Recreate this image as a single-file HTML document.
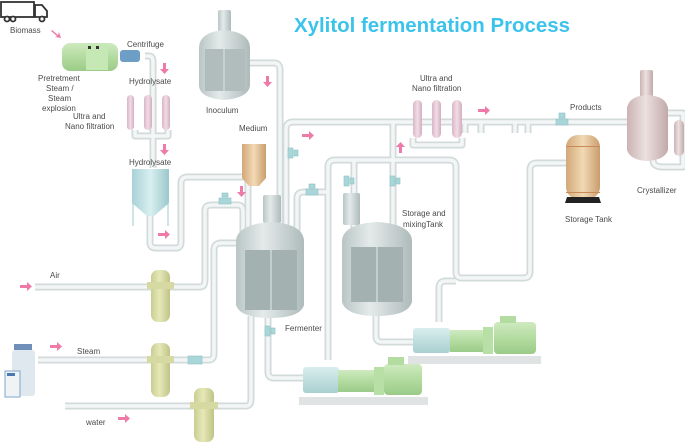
<!DOCTYPE html>
<html><head><meta charset="utf-8"><style>
html,body{margin:0;padding:0;background:#fff;}
svg{display:block;}
text{font-family:"Liberation Sans",sans-serif;fill:#4a4a4a;font-size:8px;}
</style></head><body>
<svg width="685" height="442" viewBox="0 0 685 442" xmlns="http://www.w3.org/2000/svg">
<defs>
<linearGradient id="steel" x1="0" x2="1"><stop offset="0" stop-color="#b9c6c5"/><stop offset="0.4" stop-color="#e4eaea"/><stop offset="1" stop-color="#aebbba"/></linearGradient>
<linearGradient id="green" x1="0" x2="0" y1="0" y2="1"><stop offset="0" stop-color="#cfeac0"/><stop offset="0.5" stop-color="#b3dca0"/><stop offset="1" stop-color="#9bcb88"/></linearGradient>
<linearGradient id="olive" x1="0" x2="1"><stop offset="0" stop-color="#c9ce92"/><stop offset="0.45" stop-color="#e6e8b8"/><stop offset="1" stop-color="#bfc486"/></linearGradient>
<linearGradient id="pink" x1="0" x2="1"><stop offset="0" stop-color="#d8b6c6"/><stop offset="0.5" stop-color="#f2dce6"/><stop offset="1" stop-color="#d3aec0"/></linearGradient>
<linearGradient id="tan" x1="0" x2="1"><stop offset="0" stop-color="#d2a878"/><stop offset="0.5" stop-color="#f2d9b4"/><stop offset="1" stop-color="#c99d6e"/></linearGradient>
<linearGradient id="rose" x1="0" x2="1"><stop offset="0" stop-color="#cbb3b3"/><stop offset="0.45" stop-color="#ece0e0"/><stop offset="1" stop-color="#c2a9a9"/></linearGradient>
<linearGradient id="teal" x1="0" x2="1"><stop offset="0" stop-color="#a8d2d6"/><stop offset="0.5" stop-color="#d9eef0"/><stop offset="1" stop-color="#9ac8cc"/></linearGradient>
<linearGradient id="pump" x1="0" x2="0" y1="0" y2="1"><stop offset="0" stop-color="#d9eeee"/><stop offset="1" stop-color="#a9cfd0"/></linearGradient>
</defs>

<g fill="none" stroke-linejoin="round" stroke-linecap="butt">
<g stroke="#d3dada" stroke-width="7">
<path d="M35,287 H200 Q205,287 205,280 V210 Q205,205 212,205 H238 Q243,205 243,212 V232"/>
<path d="M38,360 H209 Q214,360 214,353 V250 Q214,243 221,243 H238"/>
<path d="M65,406 H246 Q251,406 251,399 V316"/>
<path d="M150,215 V243 Q150,248 156,248 H176 Q181,248 181,242 V183 Q181,177 188,177 H243 Q248,177 248,184 V230"/>
<path d="M248,63 H274 Q280,63 280,70 V230"/>
<path d="M286,232 V129 Q286,122 293,122 H628"/>
<path d="M297,235 V198 Q297,192 304,192 H330"/>
<path d="M328,360 V167 Q328,160 335,160 H449 Q456,160 456,167 V272 Q456,278 462,278 H524 Q530,278 530,271 V170 Q530,163 537,163 H568"/>
<path d="M439,322 V288 Q439,281 446,281 H456"/>
<path d="M354,160 V228"/><path d="M393,122 V228"/>
<path d="M376,314 V336 Q376,342 382,342 H415"/>
<path d="M268,318 V372 Q268,378 274,378 H305"/>
<path d="M145,56 H149 Q153,56 153,62 V168"/>
<path d="M135,130 V136 H168 V130"/>
<path d="M413,138 V145 H462 V138"/>
<path d="M465,122 V133 M481,122 V133 M515,122 V133 M528,122 V133"/>
<path d="M660,113 H683 V167 H663 Q653,167 653,160"/>
</g>
<g stroke="#f3f6f6" stroke-width="3.5">
<path d="M35,287 H200 Q205,287 205,280 V210 Q205,205 212,205 H238 Q243,205 243,212 V232"/>
<path d="M38,360 H209 Q214,360 214,353 V250 Q214,243 221,243 H238"/>
<path d="M65,406 H246 Q251,406 251,399 V316"/>
<path d="M150,215 V243 Q150,248 156,248 H176 Q181,248 181,242 V183 Q181,177 188,177 H243 Q248,177 248,184 V230"/>
<path d="M248,63 H274 Q280,63 280,70 V230"/>
<path d="M286,232 V129 Q286,122 293,122 H628"/>
<path d="M297,235 V198 Q297,192 304,192 H330"/>
<path d="M328,360 V167 Q328,160 335,160 H449 Q456,160 456,167 V272 Q456,278 462,278 H524 Q530,278 530,271 V170 Q530,163 537,163 H568"/>
<path d="M439,322 V288 Q439,281 446,281 H456"/>
<path d="M354,160 V228"/><path d="M393,122 V228"/>
<path d="M376,314 V336 Q376,342 382,342 H415"/>
<path d="M268,318 V372 Q268,378 274,378 H305"/>
<path d="M145,56 H149 Q153,56 153,62 V168"/>
<path d="M135,130 V136 H168 V130"/>
<path d="M413,138 V145 H462 V138"/>
<path d="M465,122 V133 M481,122 V133 M515,122 V133 M528,122 V133"/>
<path d="M660,113 H683 V167 H663 Q653,167 653,160"/>
</g>
</g>

<text x="294" y="32" textLength="276" lengthAdjust="spacingAndGlyphs" style="font-size:20.5px;font-weight:bold;fill:#3cc3ec">Xylitol fermentation Process</text>

<g fill="#fff" stroke="#333" stroke-width="1.8">
<rect x="1" y="2" width="33" height="15"/>
<path d="M35,5 H42 L47,11 V17 H35 Z"/>
<circle cx="7" cy="19" r="2.5"/><circle cx="13" cy="19" r="2.5"/><circle cx="42" cy="19" r="2.5"/>
</g>
<text x="10" y="33">Biomass</text>
<rect x="62" y="43" width="56" height="28" rx="8" fill="url(#green)"/>
<rect x="86" y="44" width="22" height="26" fill="#c6e8b4"/>
<rect x="88" y="46" width="3" height="3" fill="#333"/><rect x="96" y="46" width="3" height="3" fill="#333"/>
<rect x="120" y="50" width="20" height="12" rx="3" fill="#6d9fc6"/>
<text x="127" y="47">Centrifuge</text>
<text x="38" y="81">Pretretment</text><text x="46" y="91">Steam /</text><text x="48" y="101">Steam</text><text x="42" y="111">explosion</text>
<text x="73" y="119">Ultra and</text><text x="65" y="129">Nano filtration</text>
<text x="129" y="84">Hydrolysate</text>
<text x="129" y="165">Hydrolysate</text>
<rect x="127" y="95" width="7" height="35" rx="3.5" fill="url(#pink)"/>
<rect x="144" y="95" width="8" height="35" rx="4" fill="url(#pink)"/>
<rect x="162" y="95" width="8" height="35" rx="4" fill="url(#pink)"/>
<path d="M132,169 H169 V203 L154,216 H147 L132,203 Z" fill="url(#teal)"/>
<path d="M133,203 V226 M168,203 V226" stroke="#9fc8cb" stroke-width="1"/>

<rect x="218" y="10" width="13" height="22" rx="2" fill="url(#steel)"/>
<path d="M199,47 Q200,32 224,30 Q249,32 250,47 V86 Q248,98 224,100 Q200,98 199,86 Z" fill="url(#steel)"/>
<rect x="205" y="49" width="40" height="42" fill="#b0bdbc"/><line x1="224" y1="49" x2="224" y2="91" stroke="#dde5e5"/>
<text x="206" y="113">Inoculum</text>
<text x="239" y="131">Medium</text>
<path d="M242,144 H266 V178 L259,186 H249 L242,178 Z" fill="url(#tan)"/>

<rect x="263" y="195" width="18" height="28" rx="2" fill="url(#steel)"/>
<path d="M236,240 Q238,224 272,222 Q302,224 304,240 V305 Q300,318 270,318 Q240,318 236,305 Z" fill="url(#steel)"/>
<rect x="245" y="250" width="52" height="60" fill="#a3b2b0"/>
<line x1="271" y1="250" x2="271" y2="310" stroke="#e3eaea"/>
<text x="285" y="331">Fermenter</text>
<rect x="343" y="193" width="17" height="32" rx="2" fill="url(#steel)"/>
<path d="M342,240 Q344,224 377,222 Q410,224 412,240 V302 Q408,316 377,316 Q346,316 342,302 Z" fill="url(#steel)"/>
<rect x="351" y="247" width="52" height="55" fill="#a3b2b0"/>
<line x1="377" y1="247" x2="377" y2="302" stroke="#e3eaea"/>
<text x="402" y="216">Storage and</text><text x="403" y="227">mixingTank</text>

<text x="420" y="81">Ultra and</text><text x="412" y="91">Nano filtration</text>
<rect x="413" y="100" width="9" height="38" rx="4.5" fill="url(#pink)"/>
<rect x="432" y="100" width="9" height="38" rx="4.5" fill="url(#pink)"/>
<rect x="452" y="100" width="10" height="38" rx="5" fill="url(#pink)"/>
<text x="570" y="110">Products</text>
<rect x="566" y="135" width="34" height="64" rx="12" fill="url(#tan)"/>
<rect x="566" y="146" width="34" height="1" fill="#c98a55"/><rect x="566" y="192" width="34" height="1" fill="#c98a55"/>
<path d="M567,197 H599 L601,203 H565 Z" fill="#222"/>
<text x="565" y="222">Storage Tank</text>
<rect x="640" y="70" width="13" height="28" rx="2" fill="url(#rose)"/>
<path d="M627,108 Q629,96 647,95 Q666,96 668,108 V150 Q665,160 647,161 Q630,160 627,150 Z" fill="url(#rose)"/>
<rect x="674" y="120" width="10" height="36" rx="5" fill="url(#rose)"/>
<text x="637" y="193">Crystallizer</text>

<g fill="#a9d6d8" stroke="#8cc2c6" stroke-width="0.6">
<rect x="219" y="198" width="12" height="6"/><rect x="222" y="193" width="6" height="4"/>
<rect x="288" y="148" width="5" height="10"/><rect x="294" y="150" width="4" height="6"/>
<rect x="306" y="189" width="12" height="6"/><rect x="309" y="184" width="6" height="4"/>
<rect x="344" y="176" width="5" height="10"/><rect x="350" y="178" width="4" height="6"/>
<rect x="390" y="176" width="5" height="10"/><rect x="396" y="178" width="4" height="6"/>
<rect x="556" y="119" width="12" height="6"/><rect x="559" y="113" width="6" height="5"/>
<rect x="265" y="326" width="5" height="10"/><rect x="271" y="328" width="4" height="6"/>
<rect x="188" y="356" width="14" height="8"/>
</g>

<g fill="url(#olive)">
<rect x="151" y="270" width="19" height="52" rx="7"/><rect x="147" y="282" width="27" height="7" fill="#d6d9a1"/>
<rect x="151" y="343" width="19" height="54" rx="7"/><rect x="147" y="356" width="27" height="7" fill="#d6d9a1"/>
<rect x="194" y="388" width="20" height="54" rx="7"/><rect x="190" y="402" width="28" height="7" fill="#d6d9a1"/>
</g>
<text x="50" y="278">Air</text><text x="77" y="354">Steam</text><text x="86" y="425">water</text>
<rect x="12" y="350" width="23" height="46" rx="3" fill="#dfe8ee"/>
<rect x="14" y="344" width="18" height="6" fill="#6f8fb8"/>
<rect x="5" y="371" width="15" height="26" fill="#f0f3f6" stroke="#7fa4cf"/>
<rect x="7" y="373" width="8" height="3" fill="#4a78b0"/>

<rect x="299" y="397" width="129" height="8" fill="#dfe3e3"/>
<rect x="303" y="367" width="36" height="26" rx="3" fill="url(#pump)"/>
<rect x="338" y="370" width="36" height="22" fill="url(#green)"/>
<rect x="374" y="367" width="10" height="28" fill="#b8dfa6"/>
<rect x="384" y="364" width="38" height="31" rx="4" fill="url(#green)"/>
<rect x="388" y="357" width="16" height="8" fill="#b3dca0"/>
<rect x="408" y="356" width="133" height="8" fill="#dfe3e3"/>
<rect x="413" y="328" width="37" height="25" rx="3" fill="url(#pump)"/>
<rect x="450" y="330" width="33" height="22" fill="url(#green)"/>
<rect x="483" y="327" width="10" height="27" fill="#b8dfa6"/>
<rect x="494" y="322" width="42" height="32" rx="4" fill="url(#green)"/>
<rect x="500" y="316" width="16" height="7" fill="#b3dca0"/>

<g fill="#ee7aa8">
<path d="M52,30 l6,5 l1,-3 l2,6 l-6,-1 l2,-1 l-6,-5 z"/>
<path d="M163,63 h3 v6 h3 l-4.5,5 l-4.5,-5 h3 z"/>
<path d="M163,144 h3 v6 h3 l-4.5,5 l-4.5,-5 h3 z"/>
<path d="M266,76 h3 v6 h3 l-4.5,5 l-4.5,-5 h3 z"/>
<path d="M240,186 h3 v6 h3 l-4.5,5 l-4.5,-5 h3 z"/>
<path d="M158,233 h7 v-3 l5,4.5 l-5,4.5 v-3 h-7 z"/>
<path d="M302,134 h7 v-3 l5,4.5 l-5,4.5 v-3 h-7 z"/>
<path d="M478,109 h7 v-3 l5,4.5 l-5,4.5 v-3 h-7 z"/>
<path d="M20,285 h7 v-3 l5,4.5 l-5,4.5 v-3 h-7 z"/>
<path d="M50,345 h7 v-3 l5,4.5 l-5,4.5 v-3 h-7 z"/>
<path d="M118,417 h7 v-3 l5,4.5 l-5,4.5 v-3 h-7 z"/>
<path d="M399,153 h3 v-6 h3 l-4.5,-5 l-4.5,5 h3 z"/>
</g>
</svg>
</body></html>
